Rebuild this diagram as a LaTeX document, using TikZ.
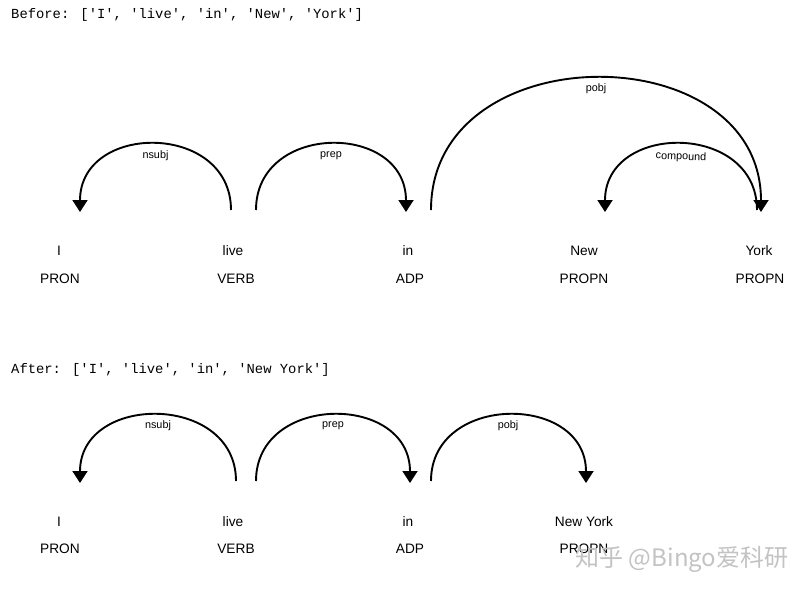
\documentclass[tikz,border=0pt]{standalone}
\usepackage{fontspec}
\setmainfont{Liberation Sans}
\newfontfamily\monof{Liberation Mono}
\newfontfamily\cjkf{Noto Sans CJK SC}
\usetikzlibrary{arrows.meta}
\newcommand\sq{\char39 }
\definecolor{wmark}{RGB}{195,195,195}
\begin{document}
\begin{tikzpicture}[x=1pt,y=-1pt,
  word/.style={anchor=base,inner sep=0pt,font=\fontsize{13.7}{14}\selectfont},
  hdr/.style={anchor=base west,inner sep=0pt,font=\monof\fontsize{13.85}{15}\selectfont},
  lbl/.style={inner sep=0pt,font=\fontsize{10.8}{12}\selectfont},
  arc/.style={line width=1.9pt,-{Triangle[width=15pt,length=12pt]}},
]
\useasboundingbox (0,0) rectangle (807,595);
\fill[white] (0,0) rectangle (807,595);

% ---------- Before ----------
\node[hdr] (h1) at (11,18) {Before: [\sq I\sq, \sq live\sq, \sq in\sq, \sq New\sq, \sq York\sq]};

\node[word] (w1) at (59,255) {I};
\node[word] (w2) at (233,255) {live};
\node[word] (w3) at (408,255) {in};
\node[word] (w4) at (584,255) {New};
\node[word] (w5) at (759,255) {York};
\node[word] (p1) at (60,283) {PRON};
\node[word] (p2) at (236,283) {VERB};
\node[word] (p3) at (410,283) {ADP};
\node[word] (p4) at (584,283) {PROPN};
\node[word] (p5) at (760,283) {PROPN};

\coordinate (a1s) at (231,210); \coordinate (a1e) at (80,212);
\coordinate (a2s) at (256,210); \coordinate (a2e) at (406,212);
\coordinate (a3s) at (431,210); \coordinate (a3e) at (761,212);
\coordinate (a4s) at (757,210); \coordinate (a4e) at (605,212);

\draw[arc] (a1s) .. controls (231,122) and (80,122) .. (a1e);
\draw[arc] (a2s) .. controls (256,122) and (406,122) .. (a2e);
\draw[arc] (a3s) .. controls (431,34) and (761,34) .. (a3e);
\draw[arc] (a4s) .. controls (757,122) and (605,122) .. (a4e);

\node[lbl] (l1) at (155.5,156) {nsubj};
\node[lbl] (l2) at (331,156) {prep};
\node[lbl] (l3) at (596,89) {pobj};
\node[lbl,rotate=-2] (l4) at (681,157) {compound};

% ---------- After ----------
\node[hdr] (h2) at (11,373) {After: [\sq I\sq, \sq live\sq, \sq in\sq, \sq New York\sq]};

\node[word] (v1) at (59,526) {I};
\node[word] (v2) at (233,526) {live};
\node[word] (v3) at (408,526) {in};
\node[word] (v4) at (584,526) {New York};
\node[word] (q1) at (60,553) {PRON};
\node[word] (q2) at (236,553) {VERB};
\node[word] (q3) at (410,553) {ADP};
\node[word] (q4) at (584,553) {PROPN};

\coordinate (b1s) at (236,481); \coordinate (b1e) at (80,483);
\coordinate (b2s) at (256,481); \coordinate (b2e) at (410,483);
\coordinate (b3s) at (431,481); \coordinate (b3e) at (586,483);

\draw[arc] (b1s) .. controls (236,393) and (80,393) .. (b1e);
\draw[arc] (b2s) .. controls (256,393) and (410,393) .. (b2e);
\draw[arc] (b3s) .. controls (431,393) and (586,393) .. (b3e);

\node[lbl] (m1) at (158,426) {nsubj};
\node[lbl] (m2) at (333,426) {prep};
\node[lbl] (m3) at (508,426) {pobj};

% watermark
\node[inner sep=0pt,text=wmark,font=\cjkf\fontsize{24}{26}\selectfont] (wm) at (682,559) {知乎 @Bingo爱科研};
\end{tikzpicture}
\end{document}
